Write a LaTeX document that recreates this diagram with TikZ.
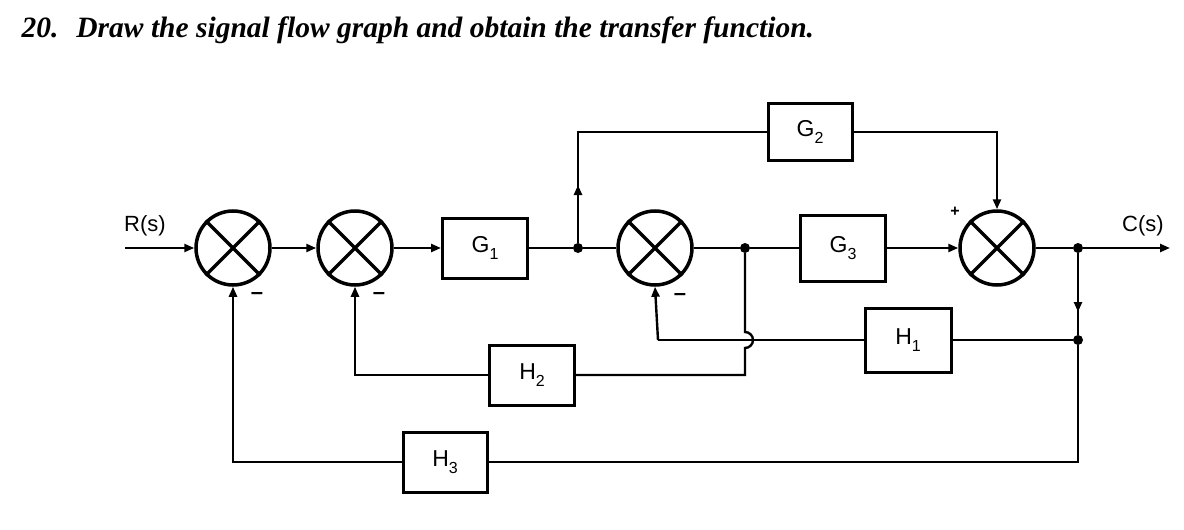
\documentclass[tikz,border=0pt]{standalone}
\usepackage{fontspec}
\setmainfont{Liberation Serif}
\newfontfamily\lsans{Liberation Sans}
\usetikzlibrary{arrows.meta}
\newcommand{\sbs}[1]{\raisebox{-0.3em}{\fontsize{16}{16}\selectfont #1}}
\begin{document}
\begin{tikzpicture}[x=1pt,y=-1pt,
  blk/.style={draw,line width=3pt,minimum width=85pt,minimum height=60pt,inner sep=0pt,font=\lsans\fontsize{23}{23}\selectfont},
  dotn/.style={circle,fill,inner sep=0pt,minimum size=10pt},
  ln/.style={line width=2.4pt},
  ar/.style={ln,-{Triangle[length=10pt,width=8pt]}},
  lab/.style={font=\lsans\fontsize{22}{22}\selectfont},
  sg/.style={font=\lsans\bfseries\fontsize{22}{22}\selectfont}]
\useasboundingbox (0,0) rectangle (1184,530);
\node[anchor=west,font=\bfseries\itshape\fontsize{29.5}{29.5}\selectfont] (title) at (18,30) {20.\; Draw the signal flow graph and obtain the transfer function.};
% summing junctions
\foreach \n/\x in {s1/233,s2/355,s3/655,s4/997}{
  \node[draw,circle,line width=3.5pt,minimum size=74pt,inner sep=0pt] (\n) at (\x,248) {};
  \draw[line width=3.5pt] (\n.north west) -- (\n.south east) (\n.north east) -- (\n.south west);
}
\node[blk] (G1) at (485,248) {G\sbs{1}};
\node[blk,minimum width=85pt,minimum height=66pt] (G3) at (843,248) {G\sbs{3}};
\node[blk,minimum width=84pt,minimum height=57pt] (G2) at (810,132) {G\sbs{2}};
\node[blk,minimum width=86pt,minimum height=64pt] (H1) at (908,340) {H\sbs{1}};
\node[blk,minimum width=85pt,minimum height=60pt] (H2) at (532,375) {H\sbs{2}};
\node[blk,minimum width=84pt,minimum height=60pt] (H3) at (445,462) {H\sbs{3}};
\node[dotn] (b1) at (578,248) {};
\node[dotn] (b2) at (745,248) {};
\node[dotn] (b3) at (1078,248) {};
\node[dotn] (b4) at (1078,340) {};
\coordinate (in) at (125,248);
\coordinate (out) at (1170,248);
\node[lab] (R) at (145,226) {R(s)};
\node[lab] (C) at (1143,226) {C(s)};
\node[sg] (m1) at (257,296) {–};
\node[sg] (m2) at (379,296) {–};
\node[sg] (m3) at (680,297) {–};
\node[font=\lsans\bfseries\fontsize{16}{16}\selectfont] (p4) at (955,212) {+};
% forward path
\draw[ar] (in) -- (s1);
\draw[ar] (s1) -- (s2);
\draw[ar] (s2) -- (G1);
\draw[ln] (G1) -- (b1) -- (s3) -- (b2) -- (G3);
\draw[ar] (G3) -- (s4);
\draw[ln] (s4) -- (b3);
\draw[ar] (b3) -- (out);
% G2 path
\draw[ar] (b1) -- (578,185);
\draw[ln] (578,190) |- (G2.west);
\draw[ar] (G2.east) -| (s4.north);
% H1 loop
\draw[ar] (b3) -- (1078,312);
\draw[ln] (1078,305) -- (b4);
\draw[ln] (b4) -- (H1.east);
\draw[ln] (H1.west) -- (658,340);
\draw[ar] (658,340) -- (s3.south);
% H2 loop
\draw[ln] (b2) -- (745,332) arc (-90:90:8) -- (745,375) -- (H2.east);
\draw[ln] (H2.west) -| (355,300);
\draw[ar] (355,300) -- (s2.south);
% H3 loop
\draw[ln] (b4) -- (1078,462) -- (H3.east);
\draw[ln] (H3.west) -| (233,300);
\draw[ar] (233,300) -- (s1.south);
\end{tikzpicture}
\end{document}
